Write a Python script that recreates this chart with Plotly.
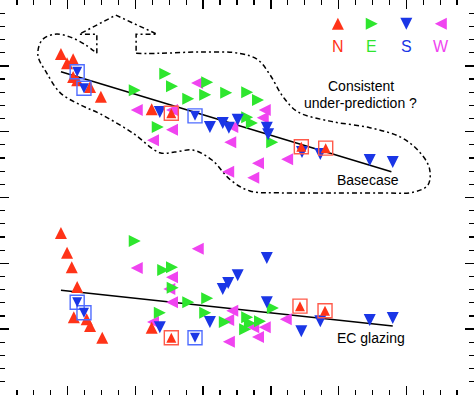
import plotly.graph_objects as go

# ---------------- data (x: 0..70, y: 0..60 arbitrary units) ----------------
# Basecase group
base_N_x = [9.0, 9.9, 10.8, 10.8, 11.4, 13.3, 14.9, 22.4]
base_N_y = [51.8, 50.4, 51.0, 48.3, 47.8, 46.8, 45.3, 43.4]
base_Nbox_x = [25.3, 44.5, 48.1]
base_Nbox_y = [42.8, 37.7, 37.5]
base_Sbox_x = [11.4, 12.4, 28.8]
base_Sbox_y = [49.1, 46.6, 42.4]
base_E_x = [19.9, 23.3, 24.4, 25.4, 30.6, 30.3, 27.8, 33.4, 36.5, 38.1, 36.5, 37.2, 40.2]
base_E_y = [46.3, 40.7, 48.8, 46.9, 47.5, 45.6, 45.0, 45.9, 46.0, 44.8, 42.2, 41.3, 38.4]
base_S_x = [23.6, 31.0, 32.9, 33.8, 35.1, 39.4, 39.6, 44.6, 47.3, 54.6, 58.0]
base_S_y = [43.0, 40.7, 41.3, 40.6, 41.8, 40.6, 39.6, 36.9, 36.6, 35.7, 35.4]
base_W_x = [20.2, 22.6, 25.4, 29.1, 39.1, 38.8, 34.3, 34.0, 25.4, 42.4, 38.1, 33.7, 37.4]
base_W_y = [43.3, 38.7, 43.3, 47.4, 43.3, 42.1, 40.7, 38.4, 40.3, 35.8, 35.2, 33.9, 33.0]
base_fit_x = [9.0, 57.8]
base_fit_y = [49.1, 33.9]

# EC glazing group
ec_N_x = [9.0, 9.9, 10.6, 11.4, 10.9, 12.8, 13.3, 15.1, 22.4]
ec_N_y = [24.6, 21.6, 19.4, 16.4, 11.8, 11.5, 10.5, 8.7, 10.2]
ec_Nbox_x = [25.3, 44.3, 48.0]
ec_Nbox_y = [8.7, 13.5, 12.8]
ec_Sbox_x = [11.4, 12.4, 28.8]
ec_Sbox_y = [14.1, 12.5, 8.7]
ec_E_x = [19.9, 24.1, 25.4, 25.5, 27.8, 30.6, 23.6, 30.3, 33.2, 40.3, 36.5, 36.9, 38.4, 36.2]
ec_E_y = [23.4, 19.0, 19.4, 16.3, 14.1, 14.7, 12.5, 12.5, 11.1, 13.2, 11.8, 10.9, 11.2, 10.0]
ec_S_x = [23.6, 31.0, 32.9, 33.7, 35.1, 39.4, 39.4, 44.5, 47.3, 54.6, 58.0]
ec_S_y = [10.3, 11.1, 16.1, 17.0, 18.2, 20.8, 14.1, 9.7, 11.2, 11.4, 11.7]
ec_W_x = [20.2, 29.2, 25.4, 25.0, 25.4, 22.6, 33.7, 34.3, 37.4, 39.1, 38.1, 33.8, 42.2]
ec_W_y = [19.3, 22.2, 17.9, 16.1, 14.1, 11.1, 11.4, 12.8, 10.3, 10.3, 8.8, 8.1, 11.5]
ec_fit_x = [9.0, 58.0]
ec_fit_y = [15.9, 10.5]

# dash-dot outline around the Basecase cloud (curved part + block arrow)
blob_x = [20.1, 23.6, 29.5, 35.4, 38.1, 39.9, 41.8, 44.0, 48.7, 54.6, 59.1, 61.7, 63.4, 63.2,
          61.0, 56.1, 48.7, 41.4, 36.9, 34.0, 31.3, 28.5, 25.8, 23.6, 19.6, 14.8, 11.8, 8.9,
          6.9, 5.6, 6.2, 8.1, 10.3, 12.6, 14.3]
blob_y = [51.9, 51.9, 52.1, 51.9, 50.9, 48.6, 45.3, 43.0, 41.6, 40.6, 39.2, 37.2, 34.5, 31.9,
          30.8, 30.7, 30.7, 30.7, 31.0, 32.7, 35.7, 37.2, 36.9, 36.8, 39.8, 42.7, 44.1, 45.9,
          48.9, 51.6, 53.9, 54.8, 54.4, 53.2, 51.9]
arrow_x = [14.3, 14.3, 11.7, 17.1, 23.2, 20.1, 20.1]
arrow_y = [51.9, 54.8, 54.8, 57.7, 54.8, 54.8, 51.9]

# legend key
key_labels = ["N", "E", "S", "W"]
key_x = [49.9, 54.9, 60.0, 65.1]
key_marker_y = 56.4
key_text_y = 52.9

# ---------------- styling ----------------
W_PX, H_PX = 474, 395
X_RANGE, Y_RANGE = [0, 70], [0, 60]
PX_X = W_PX / (X_RANGE[1] - X_RANGE[0])
PX_Y = H_PX / (Y_RANGE[1] - Y_RANGE[0])

C_N = "#ff3318"
C_E = "#2ee62e"
C_S = "#1a36e6"
C_W = "#f044f0"
C_NBOX = "#ff5a4a"
C_SBOX = "#4f6cff"
SYM = {"N": "arrow-up", "E": "arrow-right", "S": "arrow-down", "W": "arrow-left"}
COL = {"N": C_N, "E": C_E, "S": C_S, "W": C_W}
# direction the arrow tip points to (plotly arrow symbols are anchored at their tip)
DIR = {"N": (0, 1), "E": (1, 0), "S": (0, -1), "W": (-1, 0)}
MS = 12

fig = go.Figure()


def add_line(x, y, dash="solid", shape="linear"):
    fig.add_trace(go.Scatter(x=x, y=y, mode="lines", showlegend=False, hoverinfo="skip",
                             line=dict(color="black", width=1.5, dash=dash, shape=shape)))


def add_pts(x, y, d, size=MS):
    # anchor the arrow symbol at its tip so the glyph is centred on the value
    dx = DIR[d][0] * (size / 2) / PX_X
    dy = DIR[d][1] * (size / 2) / PX_Y
    fig.add_trace(go.Scatter(x=[v + dx for v in x], y=[v + dy for v in y], mode="markers",
                             showlegend=False,
                             marker=dict(symbol=SYM[d], size=size, color=COL[d], line=dict(width=0))))


def add_box(x, y, col):
    fig.add_trace(go.Scatter(x=x, y=y, mode="markers", showlegend=False,
                             marker=dict(symbol="square-open", size=14, color=col,
                                         line=dict(width=1.4, color=col))))


# outline
DASH = "5px,3px,2px,3px"
add_line(blob_x, blob_y, dash=DASH, shape="spline")
add_line(arrow_x, arrow_y, dash=DASH)

# fit lines
add_line(base_fit_x, base_fit_y)
add_line(ec_fit_x, ec_fit_y)

# points
for gx in [(base_W_x, base_W_y, "W"), (ec_W_x, ec_W_y, "W"),
           (base_E_x, base_E_y, "E"), (ec_E_x, ec_E_y, "E"),
           (base_S_x, base_S_y, "S"), (ec_S_x, ec_S_y, "S"),
           (base_N_x, base_N_y, "N"), (ec_N_x, ec_N_y, "N")]:
    add_pts(*gx)

add_box(base_Nbox_x, base_Nbox_y, C_NBOX)
add_box(ec_Nbox_x, ec_Nbox_y, C_NBOX)
add_box(base_Sbox_x, base_Sbox_y, C_SBOX)
add_box(ec_Sbox_x, ec_Sbox_y, C_SBOX)
add_pts(base_Nbox_x, base_Nbox_y, "N", size=10)
add_pts(ec_Nbox_x, ec_Nbox_y, "N", size=10)
add_pts(base_Sbox_x, base_Sbox_y, "S", size=10)
add_pts(ec_Sbox_x, ec_Sbox_y, "S", size=10)

# legend key
for lab, kx in zip(key_labels, key_x):
    add_pts([kx], [key_marker_y], lab)
    fig.add_annotation(x=kx, y=key_text_y, text=lab, showarrow=False,
                       font=dict(size=16, color=COL[lab], family="Liberation Sans, Arial"))

txt_font = dict(size=14, color="black", family="Liberation Sans, Arial")
fig.add_annotation(x=53.3, y=46.9, text="Consistent", showarrow=False, font=txt_font)
fig.add_annotation(x=53.2, y=44.4, text="under-prediction ?", showarrow=False, font=txt_font)
fig.add_annotation(x=54.3, y=32.7, text="Basecase", showarrow=False, font=txt_font)
fig.add_annotation(x=54.8, y=8.7, text="EC glazing", showarrow=False, font=txt_font)

axis_common = dict(showgrid=False, zeroline=False, showticklabels=False, showline=True,
                   linecolor="black", linewidth=1, mirror="allticks", ticks="inside",
                   ticklen=9, tickwidth=1.5, tickcolor="black")
fig.update_xaxes(range=X_RANGE, dtick=10, tick0=0,
                 minor=dict(dtick=2.5, ticks="inside", ticklen=5, tickwidth=1.2,
                            tickcolor="black", showgrid=False),
                 **axis_common)
fig.update_yaxes(range=Y_RANGE, dtick=10, tick0=0,
                 minor=dict(dtick=2, ticks="inside", ticklen=5, tickwidth=1.2,
                            tickcolor="black", showgrid=False),
                 **axis_common)
fig.update_layout(width=W_PX, height=H_PX, margin=dict(l=0, r=0, t=0, b=0),
                  plot_bgcolor="white", paper_bgcolor="white", showlegend=False)

fig.write_html("out.html", config={"displayModeBar": False, "staticPlot": True},
               post_script="document.body.style.margin='0';document.body.style.overflow='hidden';")
